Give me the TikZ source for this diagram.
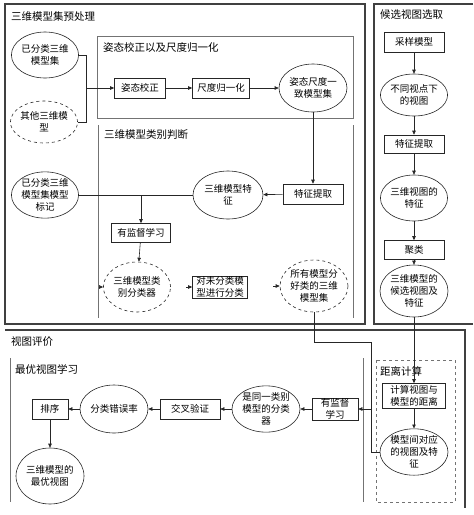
\documentclass[tikz,border=0pt]{standalone}
\usepackage{fontspec}
\setmainfont{Noto Sans CJK SC}
\usetikzlibrary{shapes.geometric,arrows.meta}
\begin{document}
\begin{tikzpicture}[x=1pt,y=-1pt,
  every node/.style={font=\fontsize{9.5}{12}\selectfont, inner sep=0pt, align=center},
  ellbox/.style={draw=black!85, ellipse, line width=0.6pt},
  rbox/.style={draw=black!85, rectangle, line width=0.6pt},
  arr/.style={-{Triangle[length=4pt,width=3.5pt]}, line width=0.6pt, draw=black!85},
  conn/.style={line width=0.6pt, draw=black!85},
  frame/.style={line width=1.1pt, draw=black!75},
  inframe/.style={line width=0.8pt, draw=black!55},
  ttl/.style={anchor=west, font=\fontsize{10.5}{12}\selectfont}
]
\useasboundingbox (0,0) rectangle (474,515);

% frames
\draw[frame] (5,4) rectangle (365,324);
\draw[frame] (473,4) -- (374,4) -- (374,324) -- (473,324);
\draw[inframe] (97,36) rectangle (353,118);
\draw[inframe] (98,125) -- (98,318);
\draw[inframe] (353,125) -- (353,318);
\draw[frame] (5,330) -- (465,330) -- (465,508);
\draw[inframe] (10,358) -- (10,502);
\draw[inframe] (363,358) -- (363,502);
\draw[inframe, dashed] (376,360) rectangle (455,502);

% titles
\node[ttl] (t1) at (11,16) {三维模型集预处理};
\node[ttl] (t2) at (103,48) {姿态校正以及尺度归一化};
\node[ttl] (t3) at (104,135) {三维模型类别判断};
\node[ttl] (t4) at (380,15) {候选视图选取};
\node[ttl] (t5) at (11,342) {视图评价};
\node[ttl] (t6) at (15,369) {最优视图学习};
\node[ttl] (t7) at (380,371) {距离计算};

% preprocessing
\node[ellbox, minimum width=66pt, minimum height=46pt] (cls) at (45,55) {已分类三维\\模型集};
\node[ellbox, dashed, minimum width=66pt, minimum height=42pt] (oth) at (44,122) {其他三维模\\型};
\node[rbox, minimum width=51pt, minimum height=20pt] (zt) at (140,88) {姿态校正};
\node[rbox, minimum width=57pt, minimum height=20pt] (cd) at (221,88) {尺度归一化};
\node[ellbox, minimum width=68pt, minimum height=48pt] (yz) at (313,88) {姿态尺度一\\致模型集};
\node[rbox, minimum width=60pt, minimum height=20pt] (tz) at (313,194) {特征提取};
\node[ellbox, minimum width=70pt, minimum height=48pt] (tzm) at (228,195) {三维模型特\\征};
\node[ellbox, minimum width=66pt, minimum height=44pt] (bj) at (45,195) {已分类三维\\模型集模型\\标记};
\node[rbox, minimum width=59pt, minimum height=19pt] (jd) at (141,233) {有监督学习};
\node[ellbox, dashed, minimum width=62pt, minimum height=50pt] (flq) at (137,287) {三维模型类\\别分类器};
\node[rbox, minimum width=55pt, minimum height=22pt] (wfl) at (220,287) {对未分类模\\型进行分类};
\node[ellbox, dashed, minimum width=68pt, minimum height=52pt] (all) at (314,286) {所有模型分\\好类的三维\\模型集};

\coordinate (j1) at (86,88);
\draw[conn] (cls.east) -| (j1);
\draw[conn] (oth.east) -| (j1);
\draw[arr] (j1) -- (zt.west);
\draw[arr] (zt) -- (cd);
\draw[arr] (cd) -- (yz);
\draw[arr] (yz) -- (tz);
\draw[arr] (tz) -- (tzm);
\draw[conn] (bj.east) -- (tzm.west);
\coordinate (j2) at (141,195);
\draw[arr] (j2) -- (jd);
\draw[arr] (jd) -- (flq);
\coordinate (s1) at (100,287);
\coordinate (s2) at (186,287);
\coordinate (s3) at (273,286);
\draw[arr] (s1) -- (flq.west);
\draw[arr] (s2) -- (wfl.west);
\draw[arr] (s3) -- (all.west);

% candidate views
\node[rbox, minimum width=60pt, minimum height=20pt] (cy) at (414,42) {采样模型};
\node[ellbox, minimum width=66pt, minimum height=42pt] (bt) at (414,95) {不同视点下\\的视图};
\node[rbox, minimum width=60pt, minimum height=18pt] (tq) at (414,144) {特征提取};
\node[ellbox, minimum width=66pt, minimum height=46pt] (sw) at (414,198) {三维视图的\\特征};
\node[rbox, minimum width=60pt, minimum height=19pt] (jl) at (414,250) {聚类};
\node[ellbox, minimum width=68pt, minimum height=52pt] (hx) at (414,291) {三维模型的\\候选视图及\\特征};
\node[rbox, minimum width=63pt, minimum height=25pt] (js) at (414,396) {计算视图与\\模型的距离};
\node[ellbox, minimum width=68pt, minimum height=46pt] (dui) at (414,452) {模型间对应\\的视图及特\\征};
\draw[arr] (cy) -- (bt);
\draw[arr] (bt) -- (tq);
\draw[arr] (tq) -- (sw);
\draw[arr] (sw) -- (jl);
\draw[arr] (jl) -- (hx);
\draw[arr] (hx) -- (js);
\draw[arr] (js) -- (dui);

% evaluation
\node[rbox, minimum width=46pt, minimum height=22pt] (jd2) at (335,409) {有监督\\学习};
\node[ellbox, minimum width=68pt, minimum height=42pt] (tl) at (266,409) {是同一类别\\模型的分类\\器};
\node[rbox, minimum width=60pt, minimum height=20pt] (jc) at (190,409) {交叉验证};
\node[ellbox, minimum width=68pt, minimum height=48pt] (cw) at (114,409) {分类错误率};
\node[rbox, minimum width=36pt, minimum height=20pt] (px) at (50,409) {排序};
\node[ellbox, minimum width=68pt, minimum height=56pt] (zy) at (50,476) {三维模型的\\最优视图};
\draw[arr] (jd2) -- (tl);
\draw[arr] (tl) -- (jc);
\draw[arr] (jc) -- (cw);
\draw[arr] (cw) -- (px);
\draw[arr] (px) -- (zy);

\coordinate (b2) at (371,342);
\coordinate (b3) at (371,452);
\coordinate (b4) at (371,409);
\draw[conn] (all.south) |- (b2) -- (b3) -- (dui.west);
\draw[arr] (b4) -- (jd2.east);
\end{tikzpicture}
\end{document}
